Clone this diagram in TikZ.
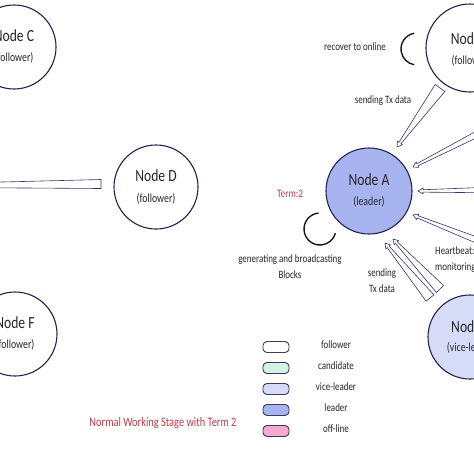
\documentclass[tikz,border=0pt]{standalone}
\usepackage{fontspec}
\setmainfont[FakeStretch=0.8]{Carlito}
\usetikzlibrary{calc}
\definecolor{navy}{HTML}{23234F}
\definecolor{wline}{HTML}{35356A}
\definecolor{leaderc}{HTML}{A8B4F0}
\definecolor{vicec}{HTML}{D6DCF8}
\definecolor{candc}{HTML}{D2F4E2}
\definecolor{offc}{HTML}{F5A8D0}
\definecolor{redt}{HTML}{BE3C46}
\tikzset{
  circ/.style={circle, draw=navy, line width=1.1pt, minimum size=#1, inner sep=0pt},
  big/.style={font=\fontsize{17}{19}\selectfont, text=black!85, inner sep=0pt},
  sub/.style={font=\fontsize{12.3}{14}\selectfont, text=black!85, inner sep=0pt},
  lab/.style={font=\fontsize{11.2}{13}\selectfont, text=black!85, inner sep=0pt},
  redlab/.style={font=\fontsize{11.5}{13}\selectfont, text=redt, inner sep=0pt},
  wedge/.style={draw=wline, fill=white, line width=0.6pt, line join=miter},
  loop/.style={draw=black!90, line width=1.4pt},
  legbox/.style={draw=navy!90, line width=0.9pt, rounded corners=4pt, minimum width=26pt, minimum height=11pt, inner sep=0pt}
}
\newcommand{\tpr}[3]{%
  \coordinate (mm) at ($(#2)!5pt!(#1)$);
  \draw[wedge] ($(#1)!#3!90:(#2)$) -- ($(mm)!1.2pt!90:(#2)$) -- ($(mm)!3pt!90:(#2)$) -- (#2)
     -- ($(mm)!3pt!-90:(#2)$) -- ($(mm)!1.2pt!-90:(#2)$) -- ($(#1)!#3!-90:(#2)$) -- cycle;}
\begin{document}
\begin{tikzpicture}[x=1pt,y=-1pt]
\useasboundingbox (0,0) rectangle (474,474);
\fill[white] (0,0) rectangle (474,474);
\clip (0,0) rectangle (474,474);

% nodes
\node[circ=86pt, fill=leaderc] (A) at (369,191) {};
\node[big] (At) at (369,180) {Node A};
\node[sub] (As) at (369,202) {(leader)};

\node[circ=88pt, fill=white] (B) at (470,48) {};
\node[big] (Bt) at (471,39) {Node B};
\node[sub] (Bs) at (471,61) {(follower)};

\node[circ=84pt, fill=white] (C) at (14,47) {};
\node[big] (Ct) at (14,36) {Node C};
\node[sub] (Cs) at (14,58) {(follower)};

\node[circ=84pt, fill=white] (D) at (156,187) {};
\node[big] (Dt) at (156,176) {Node D};
\node[sub] (Ds) at (156,199) {(follower)};

\node[circ=84pt, fill=white] (F) at (15,334) {};
\node[big] (Ft) at (15,323) {Node F};
\node[sub] (Fs) at (15,345) {(follower)};

\node[circ=84pt, fill=vicec] (G) at (470,337) {};
\node[big] (Gt) at (472,327) {Node G};
\node[sub] (Gs) at (472,348) {(vice-leader)};

% connector end points
\coordinate (sB) at (440,88);   \coordinate (tB) at (397,147);
\coordinate (sR1) at (540,102); \coordinate (tR1) at (413,167);
\coordinate (sR2) at (560,189); \coordinate (tR2) at (418,191);
\coordinate (sR3) at (540,265); \coordinate (tR3) at (413,215);
\coordinate (sG1) at (430,298); \coordinate (tG1) at (385,243);
\coordinate (sG2) at (440,289); \coordinate (tG2) at (393,239);
\coordinate (sD) at (101,184);  \coordinate (tD) at (-110,186);

\tpr{sB}{tB}{6pt}
\tpr{sR1}{tR1}{5pt}
\tpr{sR2}{tR2}{4.5pt}
\tpr{sR3}{tR3}{5pt}
\tpr{sG1}{tG1}{5pt}
\tpr{sG2}{tG2}{5pt}
\tpr{sD}{tD}{4.5pt}

% loops
\coordinate (lA) at (320,229);
\draw[loop] ($(lA)+(95:16pt)$) arc[start angle=95, end angle=345, radius=16pt];
\coordinate (lB) at (417,49);
\draw[loop] ($(lB)+(100:16pt)$) arc[start angle=100, end angle=260, radius=16pt];

% labels
\node[lab] (rec) at (355,47) {recover to online};
\node[lab] (stx1) at (383,101) {sending Tx data};
\node[redlab] (term) at (290,194) {Term:2};
\node[lab, align=center] (gen) at (290,267) {generating and broadcasting\\[3pt]Blocks};
\node[lab, align=center] (stx2) at (382,281) {sending\\[3pt]Tx data};
\node[lab, align=left, anchor=west] (hb) at (435,260) {Heartbeat:\\[3pt]monitoring};

% legend
\node[legbox, fill=white] (l1) at (276,347) {};
\node[legbox, fill=candc] (l2) at (276,368) {};
\node[legbox, fill=vicec] (l3) at (276,389) {};
\node[legbox, fill=leaderc] (l4) at (276,410) {};
\node[legbox, fill=offc] (l5) at (276,431) {};
\node[lab] (t1) at (336,345) {follower};
\node[lab] (t2) at (336,366) {candidate};
\node[lab] (t3) at (336,387) {vice-leader};
\node[lab] (t4) at (336,408) {leader};
\node[lab] (t5) at (336,429) {off-line};

\node[font=\fontsize{13}{15}\selectfont, text=redt, inner sep=0pt] (title) at (163,423) {Normal Working Stage with Term 2};
\end{tikzpicture}
\end{document}
